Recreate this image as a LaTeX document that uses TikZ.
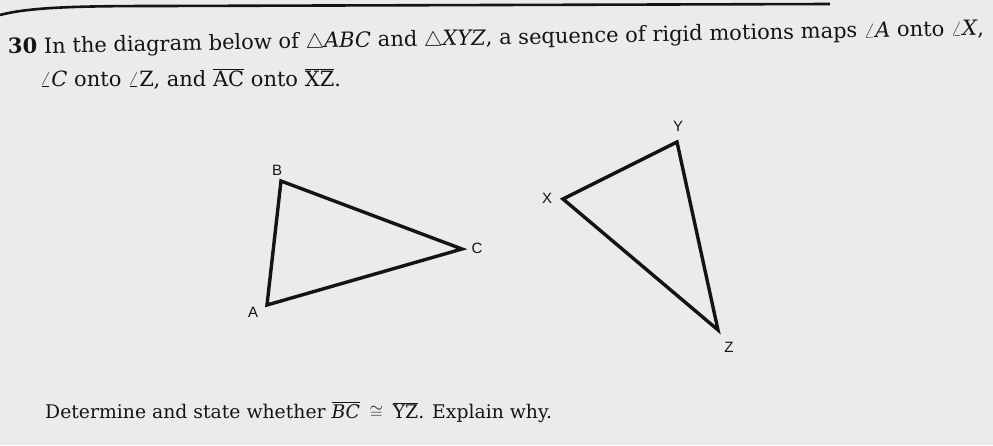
\documentclass[tikz,border=0pt]{standalone}
\usepackage{fontspec}
\setmainfont{DejaVu Serif}
\newfontfamily\labelfont{Liberation Sans}
\definecolor{paper}{RGB}{234,236,234}
\definecolor{ink}{RGB}{20,20,20}
\tikzset{
  edge/.style={draw=ink, line width=3.4pt, line join=miter},
  vlabel/.style={font=\labelfont\fontsize{15}{15}\selectfont, text=ink, inner sep=0pt},
  prose/.style={font=\fontsize{21}{21}\selectfont, text=ink, inner sep=0pt, anchor=base west},
  prosesmall/.style={prose, font=\fontsize{18.8}{18.8}\selectfont}
}
\begin{document}
\begin{tikzpicture}[x=1pt,y=-1pt]
\useasboundingbox (0,0) rectangle (993,445);
\fill[paper] (0,0) rectangle (993,445);
% page rule
\draw[ink, line width=2.6pt] (0,15) .. controls (30,7) and (80,6) .. (160,6) -- (830,4);
% question text
\node[prose, rotate=1.1] (q1) at (8,54) {\textbf{30} In the diagram below of $\triangle${\itshape ABC} and $\triangle${\itshape XYZ}, a sequence of rigid motions maps $\angle${\itshape A} onto $\angle${\itshape X},};
\node[prose] (q2) at (40,86) {$\angle${\itshape C} onto $\angle${Z}, and $\overline{\hbox{AC}}$ onto $\overline{\hbox{XZ}}$.};
\node[prosesmall] (q3) at (45,418) {Determine and state whether $\overline{\hbox{\itshape BC}}\;\cong\;\overline{\hbox{YZ}}$. Explain why.};
% triangle ABC
\coordinate (A) at (267,305);
\coordinate (B) at (281,181);
\coordinate (C) at (462,249);
\draw[edge] (A) -- (B) -- (C) -- cycle;
\node[vlabel] (lA) at (253,312) {A};
\node[vlabel] (lB) at (277,170) {B};
\node[vlabel] (lC) at (477,248) {C};
% triangle XYZ
\coordinate (X) at (563,199);
\coordinate (Y) at (677,142);
\coordinate (Z) at (718,330);
\draw[edge] (X) -- (Y) -- (Z) -- cycle;
\node[vlabel] (lX) at (547,198) {X};
\node[vlabel] (lY) at (678,126) {Y};
\node[vlabel] (lZ) at (729,347) {Z};
\end{tikzpicture}
\end{document}
